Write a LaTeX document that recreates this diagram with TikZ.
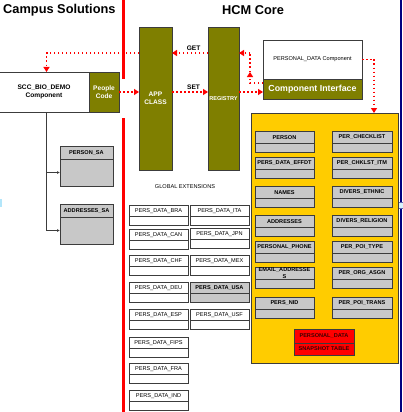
\documentclass[tikz,border=0pt]{standalone}
\usepackage{fontspec}
\setmainfont{Liberation Sans}
\usepackage{tikz}
\definecolor{kaki}{HTML}{7F7F00}
\definecolor{jaune}{HTML}{FFCC00}
\definecolor{gris}{HTML}{C8C8C8}
\definecolor{bord}{HTML}{3C3C3C}
\definecolor{marine}{HTML}{00007F}
\usetikzlibrary{shapes,fit,calc,positioning,arrows.meta}
\newcommand{\petit}{\fontsize{5.6}{6.4}\selectfont}
\newcommand{\moyen}{\fontsize{6.6}{8}\selectfont}
\tikzset{boite/.style={
    draw=bord,
    line width=0.8pt,
    inner sep=0.5pt,
    outer sep=0pt,
    align=center,
    anchor=north west}}
\tikzset{kakibox/.style={
    boite,
    fill=kaki,
    text=white,
    font=\bfseries\moyen}}
\tikzset{entete/.style={
    boite,
    fill=gris,
    font=\bfseries\petit,
    minimum height=12.5pt}}
\tikzset{corps/.style={
    draw=bord,
    line width=0.8pt,
    inner sep=0pt,
    outer sep=0pt,
    fill=gris,
    minimum height=9pt}}
\tikzset{extension/.style={
    boite,
    fill=white,
    font=\petit,
    minimum height=11.5pt}}
\tikzset{extcorps/.style={
    corps,
    fill=white,
    minimum height=8.5pt}}
\tikzset{pointille/.style={
    draw=red,
    line width=1.5pt,
    dash pattern=on 1.5pt off 2.5pt,
    -{Triangle[length=5pt,width=6pt]}}}
\tikzset{lien/.style={
    draw=bord,
    line width=0.6pt,
    -{Latex[length=3pt,width=3pt]}}}
\tikzset{etiquette/.style={
    font=\bfseries\moyen,
    inner sep=0.5pt}}
\tikzset{titre/.style={
    font=\bfseries\fontsize{12.8}{14}\selectfont,
    inner sep=0pt}}

\begin{document}
\begin{tikzpicture}[x=1pt, y=-1pt]
  \useasboundingbox (0,0) rectangle (403,412);
  \coordinate (haut) at (0,53);
  \coordinate (bas) at (0,92);
  \coordinate (virage) at (250,53);

  % titres et separation
  \node[titre, anchor=west] (cs) at (3,10) {Campus Solutions};
  \node[titre] (hcm) at (253,10) {HCM Core};
  \draw[red, line width=3.5pt] (123.5,0) -- (123.5,79);
  \draw[red, line width=3.5pt] (123.5,118) -- (123.5,412);
  \draw[marine, line width=2pt] (400.5,0) -- (400.5,412);
  \draw[draw=marine!60, fill=cyan!15, line width=0.5pt] (397,202) rectangle (403,208);
  \fill[cyan!30] (0,199) rectangle (2,207);

  % campus solutions
  \node[boite, font=\bfseries\moyen,
    minimum width=90pt,
    minimum height=40pt] (scc) at (-1,72) {SCC\_BIO\_DEMO\\Component};
  \node[kakibox,
    minimum width=30pt,
    minimum height=40pt] (pc) at (89,72) {People\\Code};

  \node[entete, minimum width=53pt, minimum height=13pt] (psa) at (60,146) {PERSON\_SA};
  \node[corps, minimum width=53pt, minimum height=27pt, below=0pt of psa] (psac) {};
  \node[entete, minimum width=53pt, minimum height=13pt] (asa) at (60,204) {ADDRESSES\_SA};
  \node[corps, minimum width=53pt, minimum height=27pt, below=0pt of asa] (asac) {};

  % hcm core
  \node[kakibox,
    minimum width=33pt,
    minimum height=143pt] (app) at (139,27) {APP\\CLASS};
  \node[kakibox, font=\bfseries\petit,
    minimum width=31pt,
    minimum height=143pt] (reg) at (208,27) {REGISTRY};

  \node[boite, font=\petit,
    minimum width=99pt,
    minimum height=39pt] (pd) at (263,40) {PERSONAL\_DATA Component};
  \node[kakibox, font=\bfseries\fontsize{8.8}{10}\selectfont,
    minimum width=99pt,
    minimum height=20pt,
    below=0pt of pd] (ci) {Component Interface};

  \node[etiquette, font=\petit\mdseries] (glob) at (185,187) {GLOBAL EXTENSIONS};
  \foreach \lab/\x/\y [count=\i] in {BRA/129/205, ITA/190/205, CAN/129/229, JPN/190/228,
      CHF/129/255, MEX/190/255, DEU/129/282, ESP/129/309, USF/190/309,
      FIPS/129/337, FRA/129/363, IND/129/390}{
    \node[extension, minimum width=59pt] (ext\i) at (\x,\y) {PERS\_DATA\_\lab};
    \node[extcorps, minimum width=59pt, below=0pt of ext\i] (extc\i) {};
  }
  \node[extension, fill=gris, font=\bfseries\petit, minimum width=59pt] (usa) at (190,282) {PERS\_DATA\_USA};
  \node[corps, minimum width=59pt, minimum height=8.5pt, below=0pt of usa] (usac) {};

  % tables personnelles
  \node[boite, fill=jaune,
    minimum width=147pt,
    minimum height=250pt] (jaune) at (251,113) {};
  \foreach \lab/\y [count=\i] in {PERSON/131, PERS\_DATA\_EFFDT/157, NAMES/186,
      ADDRESSES/215, PERSONAL\_PHONE/241, {EMAIL\_ADDRESSE\\S}/267, PERS\_NID/297}{
    \node[entete, minimum width=59pt] (g\i) at (255,\y) {\lab};
    \node[corps, minimum width=59pt, below=0pt of g\i] (gc\i) {};
  }
  \foreach \lab/\y [count=\i] in {PER\_CHECKLIST/131, PER\_CHKLST\_ITM/157,
      DIVERS\_ETHNIC/186, DIVERS\_RELIGION/215, PER\_POI\_TYPE/241,
      PER\_ORG\_ASGN/267, PER\_POI\_TRANS/297}{
    \node[entete, minimum width=60pt] (d\i) at (332,\y) {\lab};
    \node[corps, minimum width=60pt, below=0pt of d\i] (dc\i) {};
  }
  \node[entete, fill=red, text=black!75!red,
    minimum width=60pt,
    minimum height=14pt] (snap) at (294,329) {PERSONAL\_DATA};
  \node[entete, fill=red, text=black!75!red,
    minimum width=60pt,
    minimum height=12pt,
    below=0pt of snap] (snapc) {SNAPSHOT TABLE};

  % fleches
  \draw[pointille] (reg.west |- haut) -- node[etiquette, above=1pt, pos=0.4] {GET} (app.east |- haut);
  \draw[pointille] (app.west |- haut) -| ([xshift=2.5pt]scc.north);
  \draw[pointille] (pc.east) -- (app.west |- pc.east);
  \draw[pointille] (app.east |- bas) -- node[etiquette, above=1pt, pos=0.6] {SET} (reg.west |- bas);
  \draw[pointille] (reg.east |- bas) -- (ci.west |- bas);
  \draw[pointille] ([yshift=6pt]ci.west) -| ([yshift=-19pt]virage);
  \draw[pointille, -] ([yshift=-19pt]virage) -- (virage);
  \draw[pointille] (virage) -- (reg.east |- virage);
  \draw[pointille] (pd.east) -| ([xshift=49.5pt]jaune.north);
  \draw[lien] ([xshift=2.5pt]scc.south) |- (psac.west);
  \draw[lien] ([xshift=2.5pt]scc.south) |- (asac.west);
\end{tikzpicture}
\end{document}
